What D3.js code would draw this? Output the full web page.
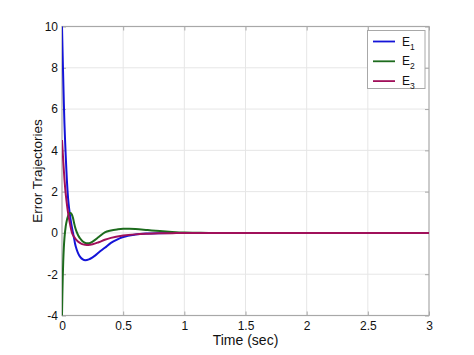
<!DOCTYPE html>
<html>
<head>
<meta charset="utf-8">
<script src="https://cdn.jsdelivr.net/npm/d3@7"></script>
<style>
  html, body { margin: 0; padding: 0; background: #fff; }
  svg { display: block; font-family: Arial, "Liberation Sans", sans-serif; }
</style>
</head>
<body>
<svg id="chart" width="474" height="355"></svg>
<script>
// ---- data ----
const xTicks = [0, 0.5, 1, 1.5, 2, 2.5, 3];
const yTicks = [-4, -2, 0, 2, 4, 6, 8, 10];
const seriesNames = ["E1", "E2", "E3"];

const tE1 = [0, 0.005, 0.01, 0.015, 0.02, 0.025, 0.03, 0.035, 0.04, 0.045, 0.05, 0.06, 0.07, 0.08, 0.09, 0.1, 0.106, 0.12, 0.133, 0.15, 0.17, 0.19, 0.22, 0.25, 0.27, 0.3, 0.35, 0.4, 0.45, 0.5, 0.6, 0.7, 0.8, 0.9, 1.0, 1.5, 2, 2.5, 3];
const E1  = [10, 8.7, 7.5, 6.3, 5.3, 4.5, 3.8, 3.15, 2.55, 2.05, 1.65, 1.1, 0.65, 0.3, 0.0, -0.3, -0.5, -0.8, -1.0, -1.17, -1.28, -1.32, -1.28, -1.18, -1.1, -0.95, -0.72, -0.48, -0.32, -0.2, -0.08, -0.03, -0.01, 0, 0, 0, 0, 0, 0];

const tE2 = [0, 0.003, 0.006, 0.01, 0.015, 0.02, 0.03, 0.04, 0.05, 0.06, 0.07, 0.08, 0.09, 0.1, 0.106, 0.12, 0.135, 0.147, 0.17, 0.2, 0.22, 0.25, 0.3, 0.35, 0.4, 0.45, 0.5, 0.55, 0.6, 0.7, 0.8, 0.9, 1.0, 1.1, 1.2, 1.5, 2, 2.5, 3];
const E2  = [-4, -3.0, -2.2, -1.4, -0.7, -0.25, 0.3, 0.62, 0.83, 0.95, 0.97, 0.9, 0.72, 0.45, 0.3, 0.05, -0.15, -0.26, -0.42, -0.5, -0.5, -0.42, -0.2, 0.03, 0.12, 0.17, 0.2, 0.2, 0.19, 0.14, 0.09, 0.05, 0.02, 0.01, 0, 0, 0, 0, 0];

const tE3 = [0, 0.01, 0.02, 0.027, 0.04, 0.05, 0.065, 0.082, 0.1, 0.13, 0.16, 0.19, 0.215, 0.25, 0.3, 0.35, 0.4, 0.5, 0.6, 0.7, 0.8, 0.9, 1.0, 1.5, 2, 2.5, 3];
const E3  = [4.5, 3.5, 2.6, 2.1, 1.4, 0.96, 0.45, 0.0, -0.2, -0.42, -0.53, -0.57, -0.58, -0.55, -0.45, -0.33, -0.24, -0.13, -0.07, -0.04, -0.02, -0.01, 0, 0, 0, 0, 0];

// ---- layout ----
const svg = d3.select("#chart");
const pLeft = 62, pRight = 429, pTop = 26.5, pBottom = 315.5;
const x = d3.scaleLinear().domain([0, 3]).range([pLeft, pRight]);
const y = d3.scaleLinear().domain([-4, 10]).range([pBottom, pTop]);
const colors = ["#1414d8", "#1d6b1d", "#a0105a"];
const axisColor = "#a8a8a8";

// grid
const g = svg.append("g");
g.selectAll("line.vg").data(xTicks.slice(1, -1)).enter().append("line")
  .attr("x1", d => x(d)).attr("x2", d => x(d)).attr("y1", pTop).attr("y2", pBottom)
  .attr("stroke", "#e6e6e6").attr("stroke-width", 1);
g.selectAll("line.hg").data(yTicks.slice(1, -1)).enter().append("line")
  .attr("y1", d => y(d)).attr("y2", d => y(d)).attr("x1", pLeft).attr("x2", pRight)
  .attr("stroke", "#e6e6e6").attr("stroke-width", 1);

// axes via d3
const xAxis = d3.axisBottom(x).tickValues(xTicks).tickSize(-4).tickPadding(6)
  .tickFormat(d => String(d));
const yAxis = d3.axisLeft(y).tickValues(yTicks).tickSize(-4).tickPadding(4)
  .tickFormat(d => String(d));

const gx = svg.append("g").attr("transform", `translate(0,${pBottom})`).call(xAxis);
const gy = svg.append("g").attr("transform", `translate(${pLeft},0)`).call(yAxis);
[gx, gy].forEach(a => {
  a.select(".domain").remove();
  a.selectAll(".tick line").attr("stroke", axisColor);
  a.selectAll(".tick text").attr("fill", "#111").style("font-size", "12px")
    .style("font-family", "Arial, 'Liberation Sans', sans-serif");
});
gx.selectAll(".tick text").attr("dy", "0.71em");

// top/right ticks (box style)
svg.append("g").attr("transform", `translate(0,${pTop})`)
  .call(d3.axisTop(x).tickValues(xTicks).tickSize(-4).tickFormat(""))
  .call(a => { a.select(".domain").remove(); a.selectAll(".tick line").attr("stroke", axisColor); });
svg.append("g").attr("transform", `translate(${pRight},0)`)
  .call(d3.axisRight(y).tickValues(yTicks).tickSize(-4).tickFormat(""))
  .call(a => { a.select(".domain").remove(); a.selectAll(".tick line").attr("stroke", axisColor); });

// box
svg.append("rect").attr("x", pLeft).attr("y", pTop)
  .attr("width", pRight - pLeft).attr("height", pBottom - pTop)
  .attr("fill", "none").attr("stroke", axisColor).attr("stroke-width", 1.2);

// lines
svg.append("clipPath").attr("id", "clip").append("rect")
  .attr("x", pLeft).attr("y", pTop - 2).attr("width", pRight - pLeft).attr("height", pBottom - pTop + 4);
const line = d3.line().x(d => x(d[0])).y(d => y(d[1])).curve(d3.curveMonotoneX);
const series = [d3.zip(tE1, E1), d3.zip(tE2, E2), d3.zip(tE3, E3)];
[0, 1, 2].forEach(i => {
  svg.append("path").datum(series[i]).attr("d", line)
    .attr("fill", "none").attr("stroke", colors[i]).attr("stroke-width", 2)
    .attr("clip-path", "url(#clip)").attr("stroke-linejoin", "round");
});

// legend
const lg = svg.append("g");
lg.append("rect").attr("x", 367.5).attr("y", 30.5).attr("width", 57.5).attr("height", 58)
  .attr("fill", "#fff").attr("stroke", axisColor).attr("stroke-width", 1);
seriesNames.forEach((n, i) => {
  const yy = 41.5 + i * 19.8;
  lg.append("line").attr("x1", 373).attr("x2", 395).attr("y1", yy).attr("y2", yy)
    .attr("stroke", colors[i]).attr("stroke-width", 1.8);
  const t = lg.append("text").attr("x", 402).attr("y", yy + 4)
    .attr("fill", "#111").style("font-size", "12px");
  t.append("tspan").text(n[0]);
  t.append("tspan").attr("dy", 4).style("font-size", "8.5px").text(n.slice(1));
});

// axis labels
svg.append("text").attr("x", 245.5).attr("y", 345).attr("text-anchor", "middle")
  .attr("fill", "#111").style("font-size", "14px").text("Time (sec)");
svg.append("text").attr("transform", "translate(42,171) rotate(-90)")
  .attr("text-anchor", "middle").attr("fill", "#111").style("font-size", "13.5px")
  .text("Error Trajectories");
</script>
</body>
</html>
